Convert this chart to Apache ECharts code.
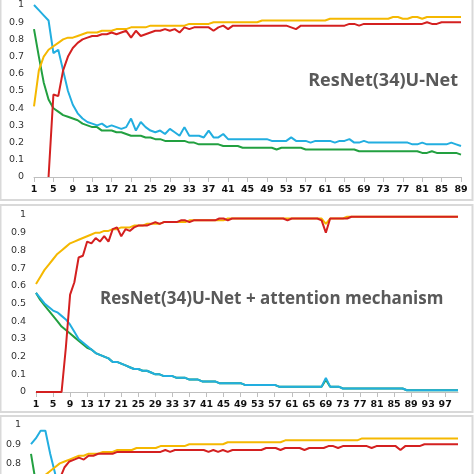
<!DOCTYPE html>
<html><head><meta charset="utf-8">
<script src="https://cdn.jsdelivr.net/npm/echarts@6/dist/echarts.min.js"></script>
<style>html,body{margin:0;padding:0;background:#fff}#c{width:474px;height:474px}</style>
</head><body><div id="c"></div>
<script>
const cats1 = Array.from({length:89},(_, i)=>String(i+1));
const cats2 = Array.from({length:100},(_, i)=>String(i+1));
const cats3 = Array.from({length:90},(_, i)=>String(i+1));
const title1 = "ResNet(34)U-Net";
const title2 = "ResNet(34)U-Net + attention mechanism";

const yellow1=[0.41,0.62,0.70,0.74,0.76,0.78,0.80,0.81,0.81,0.82,0.83,0.84,0.84,0.84,0.85,0.85,0.85,0.86,0.86,0.86,
0.87,0.87,0.87,0.87,0.88,0.88,0.88,0.88,0.88,0.88,0.88,0.88,0.89,0.89,0.89,0.89,0.89,0.90,0.90,0.90,
0.90,0.90,0.90,0.90,0.90,0.90,0.90,0.91,0.91,0.91,0.91,0.91,0.91,0.91,0.91,0.91,0.91,0.91,0.91,0.91,
0.91,0.92,0.92,0.92,0.92,0.92,0.92,0.92,0.92,0.92,0.92,0.92,0.92,0.92,0.93,0.93,0.92,0.92,0.93,0.93,
0.92,0.93,0.93,0.93,0.93,0.93,0.93,0.93,0.93];
const red1=[null,null,null,0,0.48,0.47,0.62,0.70,0.75,0.78,0.80,0.81,0.82,0.82,0.83,0.83,0.84,0.83,0.84,0.85,
0.81,0.85,0.82,0.83,0.84,0.85,0.85,0.86,0.85,0.86,0.84,0.87,0.86,0.87,0.87,0.87,0.87,0.85,0.87,0.88,
0.86,0.88,0.88,0.88,0.88,0.88,0.88,0.88,0.88,0.88,0.88,0.88,0.88,0.87,0.86,0.88,0.88,0.88,0.88,0.88,
0.88,0.88,0.88,0.88,0.88,0.89,0.89,0.88,0.89,0.89,0.89,0.89,0.89,0.89,0.89,0.89,0.89,0.89,0.89,0.89,
0.89,0.90,0.89,0.89,0.90,0.90,0.90,0.90,0.90];
const blue1=[1.0,0.97,0.94,0.91,0.72,0.74,0.62,0.50,0.42,0.37,0.34,0.32,0.31,0.30,0.31,0.29,0.30,0.29,0.28,0.29,
0.34,0.27,0.32,0.29,0.27,0.26,0.27,0.25,0.28,0.26,0.24,0.29,0.24,0.24,0.24,0.23,0.27,0.23,0.23,0.25,
0.22,0.22,0.22,0.22,0.22,0.22,0.22,0.22,0.22,0.21,0.21,0.21,0.21,0.23,0.21,0.21,0.21,0.20,0.21,0.21,
0.21,0.21,0.20,0.21,0.21,0.22,0.20,0.20,0.21,0.20,0.20,0.20,0.20,0.20,0.20,0.20,0.20,0.20,0.19,0.19,
0.20,0.19,0.19,0.19,0.19,0.19,0.20,0.19,0.18];
const green1=[0.86,0.70,0.55,0.45,0.40,0.38,0.36,0.35,0.34,0.33,0.31,0.30,0.29,0.29,0.27,0.27,0.27,0.26,0.26,0.25,
0.24,0.24,0.24,0.23,0.23,0.22,0.22,0.21,0.21,0.21,0.21,0.21,0.20,0.20,0.19,0.19,0.19,0.19,0.19,0.18,
0.18,0.18,0.18,0.17,0.17,0.17,0.17,0.17,0.17,0.17,0.16,0.17,0.17,0.17,0.17,0.17,0.16,0.16,0.16,0.16,
0.16,0.16,0.16,0.16,0.16,0.16,0.16,0.15,0.15,0.15,0.15,0.15,0.15,0.15,0.15,0.15,0.15,0.15,0.15,0.15,
0.14,0.14,0.15,0.14,0.14,0.14,0.14,0.14,0.13];

const yellow2=[0.61,0.65,0.69,0.72,0.75,0.78,0.80,0.82,0.84,0.85,0.86,0.87,0.88,0.89,0.90,0.90,0.91,0.91,0.92,0.92,
0.93,0.93,0.93,0.94,0.94,0.94,0.95,0.95,0.95,0.95,0.96,0.96,0.96,0.96,0.96,0.96,0.97,0.97,0.97,0.97,
0.97,0.97,0.97,0.97,0.97,0.98,0.98,0.98,0.98,0.98,0.98,0.98,0.98,0.98,0.98,0.98,0.98,0.98,0.98,0.98,
0.98,0.98,0.98,0.98,0.98,0.98,0.98,0.98,0.95,0.98,0.98,0.98,0.98,0.99,0.99,0.99,0.99,0.99,0.99,0.99,
0.99,0.99,0.99,0.99,0.99,0.99,0.99,0.99,0.99,0.99,0.99,0.99,0.99,0.99,0.99,0.99,0.99,0.99,0.99,0.99];
const red2=[0,0,0,0,0,0,0,0.25,0.55,0.62,0.76,0.77,0.85,0.84,0.87,0.85,0.88,0.85,0.92,0.93,
0.88,0.92,0.91,0.93,0.94,0.94,0.94,0.95,0.96,0.95,0.96,0.96,0.96,0.96,0.97,0.97,0.96,0.97,0.97,0.97,
0.97,0.97,0.97,0.98,0.98,0.97,0.98,0.98,0.98,0.98,0.98,0.98,0.98,0.98,0.98,0.98,0.98,0.98,0.98,0.97,
0.98,0.98,0.98,0.98,0.98,0.98,0.98,0.97,0.90,0.98,0.98,0.98,0.98,0.98,0.99,0.99,0.99,0.99,0.99,0.99,
0.99,0.99,0.99,0.99,0.99,0.99,0.99,0.99,0.99,0.99,0.99,0.99,0.99,0.99,0.99,0.99,0.99,0.99,0.99,0.99];
const green2=[0.56,0.52,0.49,0.46,0.43,0.40,0.37,0.35,0.33,0.31,0.29,0.27,0.25,0.24,0.22,0.21,0.20,0.19,0.17,0.17,
0.16,0.15,0.14,0.13,0.13,0.12,0.12,0.11,0.10,0.10,0.09,0.09,0.09,0.08,0.08,0.08,0.07,0.07,0.07,0.06,
0.06,0.06,0.06,0.05,0.05,0.05,0.05,0.05,0.05,0.04,0.04,0.04,0.04,0.04,0.04,0.04,0.04,0.03,0.03,0.03,
0.03,0.03,0.03,0.03,0.03,0.03,0.03,0.03,0.07,0.03,0.03,0.03,0.02,0.02,0.02,0.02,0.02,0.02,0.02,0.02,
0.02,0.02,0.02,0.02,0.02,0.02,0.02,0.01,0.01,0.01,0.01,0.01,0.01,0.01,0.01,0.01,0.01,0.01,0.01,0.01];
const blue2=[0.56,0.53,0.50,0.48,0.46,0.45,0.43,0.41,0.38,0.34,0.30,0.28,0.26,0.24,0.22,0.21,0.20,0.19,0.17,0.17,
0.16,0.15,0.14,0.13,0.13,0.12,0.12,0.11,0.10,0.10,0.09,0.09,0.09,0.08,0.08,0.08,0.07,0.07,0.07,0.06,
0.06,0.06,0.06,0.05,0.05,0.05,0.05,0.05,0.05,0.04,0.04,0.04,0.04,0.04,0.04,0.04,0.04,0.03,0.03,0.03,
0.03,0.03,0.03,0.03,0.03,0.03,0.03,0.03,0.08,0.03,0.03,0.03,0.02,0.02,0.02,0.02,0.02,0.02,0.02,0.02,
0.02,0.02,0.02,0.02,0.02,0.02,0.02,0.01,0.01,0.01,0.01,0.01,0.01,0.01,0.01,0.01,0.01,0.01,0.01,0.01];

const blue3=[0.90,0.93,0.97,0.97,0.85,0.75,0.62,0.50,0.42,0.37,0.34,0.32,0.30,0.29,0.28,0.27,0.26,0.26,0.25,0.25,
0.24,0.24,0.23,0.23,0.23,0.22,0.22,0.22,0.21,0.21,0.21,0.21,0.20,0.20,0.20,0.20,0.20,0.19,0.19,0.19,
0.19,0.19,0.19,0.18,0.18,0.18,0.18,0.18,0.18,0.18,0.18,0.17,0.17,0.17,0.17,0.17,0.17,0.17,0.17,0.17,
0.17,0.16,0.16,0.16,0.16,0.16,0.16,0.16,0.16,0.16,0.16,0.16,0.16,0.15,0.15,0.15,0.15,0.15,0.15,0.15,
0.15,0.15,0.15,0.15,0.15,0.15,0.15,0.15,0.15,0.15];
const yellow3=[0.50,0.62,0.70,0.74,0.76,0.78,0.80,0.81,0.82,0.83,0.84,0.84,0.85,0.85,0.85,0.86,0.86,0.86,0.87,0.87,
0.87,0.87,0.88,0.88,0.88,0.88,0.88,0.89,0.89,0.89,0.89,0.89,0.89,0.90,0.90,0.90,0.90,0.90,0.90,0.90,
0.90,0.91,0.91,0.91,0.91,0.91,0.91,0.91,0.91,0.91,0.91,0.91,0.91,0.92,0.92,0.92,0.92,0.92,0.92,0.92,
0.92,0.92,0.92,0.92,0.92,0.92,0.92,0.92,0.92,0.93,0.93,0.93,0.93,0.93,0.93,0.93,0.93,0.93,0.93,0.93,
0.93,0.93,0.93,0.93,0.93,0.93,0.93,0.93,0.93,0.93];
const red3=[null,null,0,0.20,0.45,0.62,0.72,0.78,0.81,0.82,0.83,0.82,0.84,0.84,0.85,0.85,0.85,0.85,0.86,0.86,
0.86,0.86,0.86,0.86,0.86,0.86,0.86,0.86,0.87,0.86,0.87,0.87,0.87,0.87,0.87,0.87,0.87,0.86,0.87,0.86,
0.87,0.86,0.87,0.87,0.87,0.87,0.87,0.87,0.87,0.88,0.88,0.88,0.87,0.88,0.88,0.88,0.88,0.87,0.88,0.88,
0.88,0.88,0.89,0.89,0.88,0.89,0.89,0.89,0.89,0.89,0.89,0.88,0.89,0.89,0.89,0.89,0.89,0.87,0.89,0.89,
0.89,0.89,0.90,0.90,0.90,0.90,0.90,0.90,0.90,0.90];
const green3=[0.85,0.70,0.56,0.46,0.41,0.38,0.36,0.35,0.34,0.33,0.31,0.30,0.29,0.28,0.27,0.27,0.26,0.26,0.25,0.25,
0.24,0.24,0.23,0.23,0.23,0.22,0.22,0.21,0.21,0.21,0.21,0.20,0.20,0.20,0.19,0.19,0.19,0.19,0.18,0.18,
0.18,0.18,0.18,0.17,0.17,0.17,0.17,0.17,0.17,0.17,0.16,0.16,0.16,0.16,0.16,0.16,0.16,0.16,0.16,0.16,
0.16,0.15,0.15,0.15,0.15,0.15,0.15,0.15,0.15,0.15,0.15,0.15,0.15,0.15,0.14,0.14,0.14,0.14,0.14,0.14,
0.14,0.14,0.14,0.14,0.14,0.14,0.14,0.14,0.13,0.13];

const C={yellow:'#f5b800',red:'#d42020',blue:'#22aee0',green:'#22a040'};
const grids=[{left:34,right:13,top:3,height:174},{left:36,right:16,top:215,height:177},{left:31,right:16,top:425,height:48}];
const catsAll=[cats1,cats2,cats3];
const xAxis=catsAll.map((c,i)=>({type:'category',gridIndex:i,data:c,boundaryGap:false,
  axisLine:{show:i<2,lineStyle:{color:'#bfbfbf'}},axisTick:{show:i<2,interval:3,lineStyle:{color:'#bfbfbf'}},
  axisLabel:{show:i<2,interval:3,color:'#111',fontWeight:'bold',fontSize:9.5,margin:8,fontFamily:'DejaVu Sans'}}));
const yAxis=grids.map((g,i)=>({type:'value',gridIndex:i,min:i<2?0:0.75,max:1,interval:i<2?0.1:0.05,splitLine:{show:false},
  axisLine:{show:false},axisTick:{show:false},
  axisLabel:{color:'#333',fontSize:9.5,margin:10,fontFamily:'DejaVu Sans',
    formatter:v=>{const r=Math.round(v*100);return r%10===0?String(r/100):'';}}}));
function s(d,col,gi){return {type:'line',data:d,xAxisIndex:gi,yAxisIndex:gi,symbol:'none',clip:true,
  lineStyle:{color:col,width:2},itemStyle:{color:col},animation:false};}
const series=[
 s(green1,C.green,0),s(blue1,C.blue,0),s(yellow1,C.yellow,0),s(red1,C.red,0),
 s(green2,C.green,1),s(blue2,C.blue,1),s(yellow2,C.yellow,1),s(red2,C.red,1),
 s(green3,C.green,2),s(blue3,C.blue,2),s(yellow3,C.yellow,2),s(red3,C.red,2)];
const chart=echarts.init(document.getElementById('c'));
chart.setOption({animation:false,grid:grids,xAxis,yAxis,series,
 graphic:[
  {type:'rect',shape:{x:0.5,y:-5,width:472,height:205},style:{fill:'none',stroke:'#d9d9d9',lineWidth:2},z:-1},
  {type:'rect',shape:{x:0.5,y:205,width:472,height:207},style:{fill:'none',stroke:'#d9d9d9',lineWidth:2},z:-1},
  {type:'rect',shape:{x:0.5,y:416,width:472,height:80},style:{fill:'none',stroke:'#d9d9d9',lineWidth:2},z:-1},
  {type:'text',right:16,top:72,style:{text:title1,fill:'#595959',font:'bold 18px "Open Sans"'},z:10},
  {type:'text',left:100,top:291,style:{text:title2,fill:'#595959',font:'bold 17px "Open Sans"'},z:10}
 ]});
</script></body></html>
